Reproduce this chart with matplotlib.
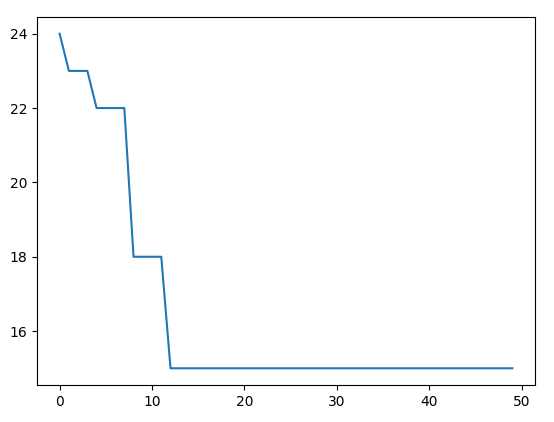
import matplotlib
matplotlib.use('Agg')
import matplotlib.pyplot as plt

# step values
steps = list(range(50))
values = [24, 23, 23, 23, 22, 22, 22, 22, 18, 18, 18, 18] + [15] * 38

fig = plt.figure(figsize=(5.54, 4.22), dpi=100)
ax = fig.add_axes([37 / 554, 1 - 385 / 422, (535 - 37) / 554, (385 - 17) / 422])
ax.plot(steps, values)
fig.savefig('out.png', dpi=100)
